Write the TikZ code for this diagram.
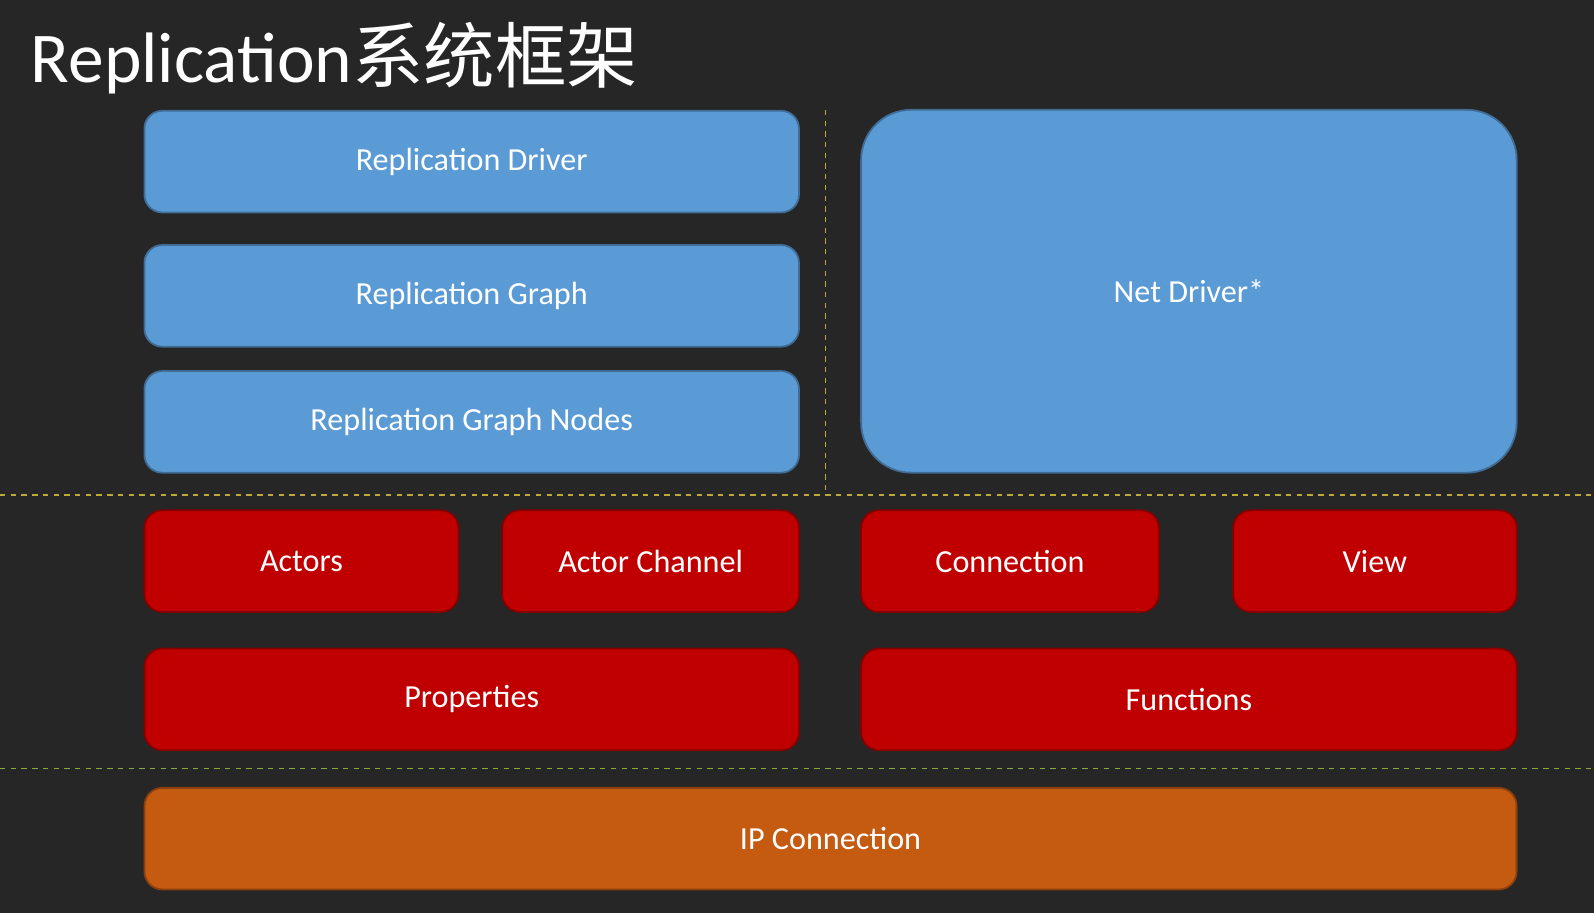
\documentclass[tikz,border=0pt]{standalone}
\usepackage{fontspec}
\setmainfont{Carlito}
\newfontfamily\cjk{Noto Sans CJK SC}
\definecolor{bg}{HTML}{262626}
\definecolor{bl}{HTML}{5B9BD5}
\definecolor{rd}{HTML}{C00000}
\definecolor{og}{HTML}{C55A11}
\begin{document}
\begin{tikzpicture}[x=0.02cm,y=-0.02cm,
 box/.style={draw=#1!70!black,line width=1pt,rounded corners=10pt,text=white,font=\fontsize{18}{20}\selectfont},
 ]
\fill[bg] (0,0) rectangle (1568,898);
\useasboundingbox (0,0) rectangle (1568,898);
\node[anchor=west,text=white,font=\fontsize{40}{44}\selectfont,inner sep=0] (t) at (30,57) {Replication{\cjk 系统框架}};
\tikzset{B/.style 2 args={box=#1,fill=#1}}
\newcommand{\bx}[6]{\node[B={#5}{},minimum width=#3*0.02cm-1pt,minimum height=#4*0.02cm-1pt] (#6) at (#1,#2) {};}
\node[box=bl,fill=bl,minimum width=12.88cm,minimum height=2.0cm] (rd) at (464,159) {Replication Driver};
\node[box=bl,fill=bl,minimum width=12.88cm,minimum height=2.0cm] (rg) at (464,291) {Replication Graph};
\node[box=bl,fill=bl,minimum width=12.88cm,minimum height=2.0cm] (rn) at (464,415) {Replication Graph Nodes};
\node[box=bl,fill=bl,rounded corners=28pt,minimum width=12.9cm,minimum height=7.14cm] (nd) at (1169.5,286.5) {Net Driver*};
\node[box=rd,fill=rd,minimum width=6.18cm,minimum height=2.0cm] (ac) at (296.5,552) {Actors};
\node[box=rd,fill=rd,minimum width=5.84cm,minimum height=2.0cm] (ach) at (640,552) {Actor Channel};
\node[box=rd,fill=rd,minimum width=5.86cm,minimum height=2.0cm] (co) at (993.5,552) {Connection};
\node[box=rd,fill=rd,minimum width=5.58cm,minimum height=2.0cm] (vw) at (1352.5,552) {View};
\node[box=rd,fill=rd,minimum width=12.88cm,minimum height=2.0cm] (pr) at (464,688) {Properties};
\node[box=rd,fill=rd,minimum width=12.9cm,minimum height=2.0cm] (fn) at (1169.5,688) {Functions};
\node[box=og,fill=og,minimum width=27.0cm,minimum height=2.0cm] (ip) at (817,825) {IP Connection};
\draw[dashed,draw={rgb,255:red,190;green,170;blue,60},line width=0.8pt] (812,108) -- (812,487);
\draw[dashed,draw={rgb,255:red,190;green,170;blue,60},line width=0.8pt] (0,487) -- (1568,487);
\draw[dashed,draw={rgb,255:red,140;green,170;blue,60},line width=0.8pt] (0,756) -- (1568,756);
\end{tikzpicture}
\end{document}
